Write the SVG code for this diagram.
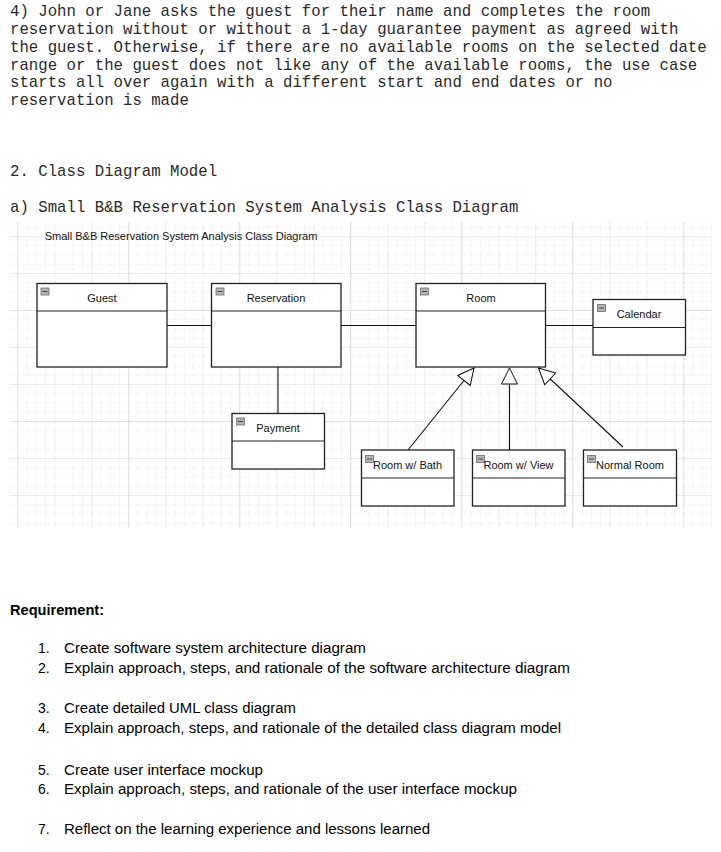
<svg xmlns="http://www.w3.org/2000/svg" width="721" height="852" viewBox="0 0 721 852">
<style>
.mono{font-family:"Liberation Mono","Courier New",monospace;font-size:15.7px;fill:#2a2a2a}
.lbl{font-family:"Liberation Sans",Arial,sans-serif;font-size:11px;fill:#111}
.req{font-family:"Liberation Sans",Arial,sans-serif;font-size:14px;fill:#000}
.box{fill:#fff;stroke:#222;stroke-width:1.3}
.sep{stroke:#222;stroke-width:1.2}
.conn{stroke:#111;stroke-width:1.1;fill:none}
.ico{fill:#b4b4b4;stroke:#6a6a6a;stroke-width:0.8}
.icol{stroke:#444;stroke-width:1}
</style>
<defs>
<pattern id="minor" patternUnits="userSpaceOnUse" x="17.3" y="199" width="9.25" height="9.25">
<path d="M0,0 V9.25 M0,0 H9.25" stroke="#efefef" stroke-width="1" fill="none"/>
</pattern>
<pattern id="mid" patternUnits="userSpaceOnUse" x="17.3" y="199" width="37" height="37">
<path d="M0,0 V37 M0,0 H37" stroke="#e2e2e2" stroke-width="1" fill="none"/>
</pattern>
<pattern id="major" patternUnits="userSpaceOnUse" x="17.3" y="199" width="111" height="111">
<path d="M0,0 V111 M0,0 H111" stroke="#d6d6d6" stroke-width="1" fill="none"/>
</pattern>
<marker id="gen" markerUnits="userSpaceOnUse" markerWidth="20" markerHeight="20" viewBox="-18 -10 20 20" refX="0" refY="0" orient="auto">
<path d="M0,0 L-16,-8 L-16,8 Z" fill="#fff" stroke="#111" stroke-width="1"/>
</marker>
<g id="icon"><rect class="ico" x="0" y="0" width="8" height="7"/><line class="icol" x1="1.5" y1="3.5" x2="6.5" y2="3.5"/></g>
</defs>
<rect width="721" height="852" fill="#fff"/>

<g id="paragraph">
<text class="mono" x="10" y="16">4) John or Jane asks the guest for their name and completes the room</text>
<text class="mono" x="10" y="34">reservation without or without a 1-day guarantee payment as agreed with</text>
<text class="mono" x="10" y="52">the guest. Otherwise, if there are no available rooms on the selected date</text>
<text class="mono" x="10" y="69.5">range or the guest does not like any of the available rooms, the use case</text>
<text class="mono" x="10" y="87">starts all over again with a different start and end dates or no</text>
<text class="mono" x="10" y="105">reservation is made</text>
<text class="mono" x="10" y="176">2. Class Diagram Model</text>
<text class="mono" x="10" y="212">a) Small B&amp;B Reservation System Analysis Class Diagram</text>
</g>

<g id="grid">
<rect x="10" y="222" width="702" height="306" fill="url(#minor)"/>
<rect x="10" y="222" width="702" height="306" fill="url(#mid)"/>
<rect x="10" y="222" width="702" height="306" fill="url(#major)"/>
</g>

<text class="lbl" x="181" y="240" text-anchor="middle">Small B&amp;B Reservation System Analysis Class Diagram</text>

<g id="connectors">
<line class="conn" x1="167" y1="325.5" x2="211" y2="325.5"/>
<line class="conn" x1="341" y1="325.5" x2="416" y2="325.5"/>
<line class="conn" x1="546" y1="325.5" x2="593" y2="325.5"/>
<line class="conn" x1="278" y1="367" x2="278" y2="413"/>
<line class="conn" x1="408" y1="450" x2="474" y2="368" marker-end="url(#gen)"/>
<line class="conn" x1="509.5" y1="450" x2="509.5" y2="368" marker-end="url(#gen)"/>
<line class="conn" x1="623" y1="447" x2="538.5" y2="368" marker-end="url(#gen)"/>
</g>

<g id="guest">
<rect class="box" x="37" y="283.5" width="130" height="83.5"/>
<line class="sep" x1="37" y1="311" x2="167" y2="311"/>
<use href="#icon" x="41" y="288"/>
<text class="lbl" x="102" y="301.5" text-anchor="middle">Guest</text>
</g>

<g id="reservation">
<rect class="box" x="211.5" y="283.5" width="129.5" height="83.5"/>
<line class="sep" x1="211.5" y1="311" x2="341" y2="311"/>
<use href="#icon" x="216" y="288"/>
<text class="lbl" x="276" y="301.5" text-anchor="middle">Reservation</text>
</g>

<g id="room">
<rect class="box" x="416" y="283.5" width="129.5" height="83.5"/>
<line class="sep" x1="416" y1="311" x2="545.5" y2="311"/>
<use href="#icon" x="420.5" y="288"/>
<text class="lbl" x="481" y="301.5" text-anchor="middle">Room</text>
</g>

<g id="calendar">
<rect class="box" x="593" y="299.5" width="92.5" height="55.5"/>
<line class="sep" x1="593" y1="327.5" x2="685.5" y2="327.5"/>
<use href="#icon" x="597.5" y="304.5"/>
<text class="lbl" x="639" y="317.5" text-anchor="middle">Calendar</text>
</g>

<g id="payment">
<rect class="box" x="232" y="413.5" width="92.5" height="55.5"/>
<line class="sep" x1="232" y1="441" x2="324.5" y2="441"/>
<use href="#icon" x="236.5" y="418"/>
<text class="lbl" x="278" y="431.5" text-anchor="middle">Payment</text>
</g>

<g id="room-bath">
<rect class="box" x="361.5" y="450" width="92.5" height="56"/>
<line class="sep" x1="361.5" y1="478" x2="454" y2="478"/>
<use href="#icon" x="365.5" y="455.5"/>
<text class="lbl" x="407.5" y="468.5" text-anchor="middle">Room w/ Bath</text>
</g>

<g id="room-view">
<rect class="box" x="472.5" y="450" width="92.5" height="56"/>
<line class="sep" x1="472.5" y1="478" x2="565" y2="478"/>
<use href="#icon" x="476.5" y="455.5"/>
<text class="lbl" x="518.5" y="468.5" text-anchor="middle">Room w/ View</text>
</g>

<g id="normal-room">
<rect class="box" x="583.5" y="450" width="93" height="56"/>
<line class="sep" x1="583.5" y1="478" x2="676.5" y2="478"/>
<use href="#icon" x="587.5" y="455.5"/>
<text class="lbl" x="630" y="468.5" text-anchor="middle">Normal Room</text>
</g>

<g id="requirements">
<text class="req" x="10" y="615" font-weight="bold" textLength="94" lengthAdjust="spacingAndGlyphs">Requirement:</text>
<text class="req" x="38" y="653">1.</text>
<text class="req" x="64" y="653" textLength="302" lengthAdjust="spacingAndGlyphs">Create software system architecture diagram</text>
<text class="req" x="38" y="673">2.</text>
<text class="req" x="64" y="673" textLength="506" lengthAdjust="spacingAndGlyphs">Explain approach, steps, and rationale of the software architecture diagram</text>
<text class="req" x="38" y="713">3.</text>
<text class="req" x="64" y="713" textLength="232" lengthAdjust="spacingAndGlyphs">Create detailed UML class diagram</text>
<text class="req" x="38" y="733">4.</text>
<text class="req" x="64" y="733" textLength="497" lengthAdjust="spacingAndGlyphs">Explain approach, steps, and rationale of the detailed class diagram model</text>
<text class="req" x="38" y="775">5.</text>
<text class="req" x="64" y="775" textLength="199" lengthAdjust="spacingAndGlyphs">Create user interface mockup</text>
<text class="req" x="38" y="794">6.</text>
<text class="req" x="64" y="794" textLength="453" lengthAdjust="spacingAndGlyphs">Explain approach, steps, and rationale of the user interface mockup</text>
<text class="req" x="38" y="834">7.</text>
<text class="req" x="64" y="834" textLength="366" lengthAdjust="spacingAndGlyphs">Reflect on the learning experience and lessons learned</text>
</g>
</svg>
